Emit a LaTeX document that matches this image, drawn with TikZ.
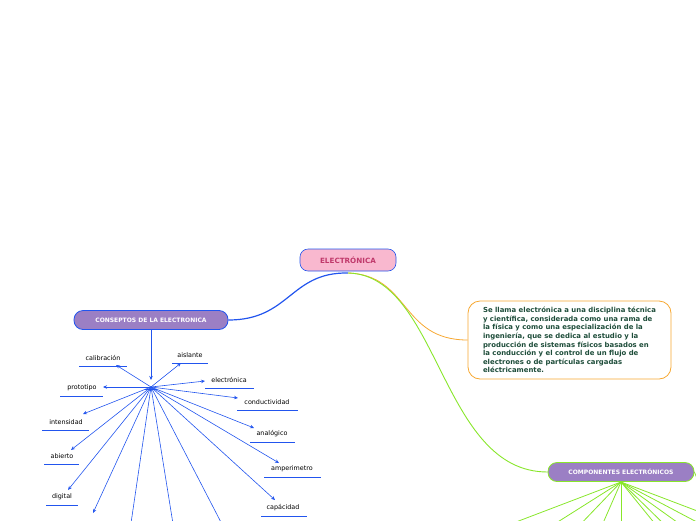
\documentclass[tikz,border=0pt]{standalone}
\usepackage{fontspec}
\setmainfont{DejaVu Sans}
\usetikzlibrary{arrows.meta}
\definecolor{pinkf}{HTML}{F9B8CF}
\definecolor{pinkt}{HTML}{C0396B}
\definecolor{purp}{HTML}{9B7FC4}
\definecolor{bl}{HTML}{2255EE}
\definecolor{gr}{HTML}{88E62A}
\definecolor{orr}{HTML}{F7A832}
\definecolor{dg}{HTML}{1E4D3A}
\tikzset{
 main/.style={draw=bl,fill=pinkf,rounded corners=8pt,text=pinkt,font=\fontsize{7.2}{8}\selectfont\bfseries,minimum width=96pt,minimum height=22pt,line width=0.6pt},
 topic/.style={fill=purp,rounded corners=9pt,text=white,font=\fontsize{6}{7}\selectfont\bfseries,minimum height=19pt,line width=0.8pt},
 leaf/.style={font=\fontsize{6.4}{7}\selectfont,inner sep=1pt},
 ul/.style={bl,line width=1pt},
 bar/.style={draw=bl,line width=0.6pt,-{Stealth[length=4pt,width=3.5pt,fill=bl]}},
 gl/.style={gr,line width=0.8pt}
}
\begin{document}
\begin{tikzpicture}[x=1pt,y=-1pt]
\useasboundingbox (0,0) rectangle (696,520);
\clip (0,0) rectangle (696,520);
\node[main] (el) at (348,260) {ELECTRÓNICA};
\node[topic,draw=bl,minimum width=154pt] (con) at (151,320) {CONSEPTOS DE LA ELECTRONICA};
\node[topic,draw=gr,minimum width=146pt] (com) at (621,472) {COMPONENTES ELECTRÓNICOS};
\node[draw=orr,fill=white,rounded corners=12pt,line width=0.8pt,minimum width=203pt,minimum height=78pt,align=left,text=dg,font=\fontsize{6.9}{8.6}\selectfont\bfseries,inner xsep=10pt] (def) at (569.5,340) {Se llama electrónica a una disciplina técnica\\ y científica, considerada como una rama de\\ la física y como una especialización de la\\ ingeniería, que se dedica al estudio y la\\ producción de sistemas físicos basados en\\ la conducción y el control de un flujo de\\ electrones o de partículas cargadas\\ eléctricamente.};
\coordinate (top) at (348,273);
\draw[bl,line width=1.2pt] (top) .. controls (290,272) and (290,320) .. (con.east);
\draw[orr,line width=0.8pt] (top) .. controls (410,275) and (400,340) .. (def.west);
\draw[gr,line width=0.9pt] (top) .. controls (440,275) and (440,472) .. (com.west);
\coordinate (hub) at (151,387);
\draw[bar] (con.south) -- (151,380);
\draw[ul] (145,389) -- (157,389);
\foreach \t/\x/\y/\a/\b/\ax/\ay/\n in {
 calibración/103/358/79/127/116/365/a,
 aislante/190/355/172/208/181/363/b,
 prototipo/82/388/60/103/103/387/c,
 electrónica/229/380/205/254/205/381/d,
 conductividad/267/402/237/298/238/398/e,
 intensidad/66/422/42/89/83/414/f,
 analógico/272/434/250/295/254/428/g,
 abierto/62/456/44/79/71/450/h,
 amperimetro/292/469/264/321/279/463/i,
 digital/62/497/46/78/68/490/j,
 capácidad/283/508/261/307/275/500/k}{
 \node[leaf] (l\n) at (\x,\y) {\t};
 \draw[ul] (\a,\y+8) -- (\b,\y+8);
 \coordinate (e\n) at (\ax,\ay);
 \draw[bar] (hub) -- (e\n);
}
\coordinate (ex1) at (93,513);
\draw[bar] (hub) -- (ex1);
\foreach \x in {130,174,225}{\coordinate (z) at (\x,530); \draw[bl,line width=0.6pt] (hub) -- (z);}
\coordinate (ch) at (621,482);
\foreach \x in {495,545,575,600,621,660,670,688,712}{\coordinate (z) at (\x,530); \draw[gl] (ch) -- (z);}
\coordinate (cr) at (700,512); \draw[gl] (ch) -- (cr);
\coordinate (cr2) at (700,486); \draw[gl] (com.east) -- (cr2);
\end{tikzpicture}
\end{document}
